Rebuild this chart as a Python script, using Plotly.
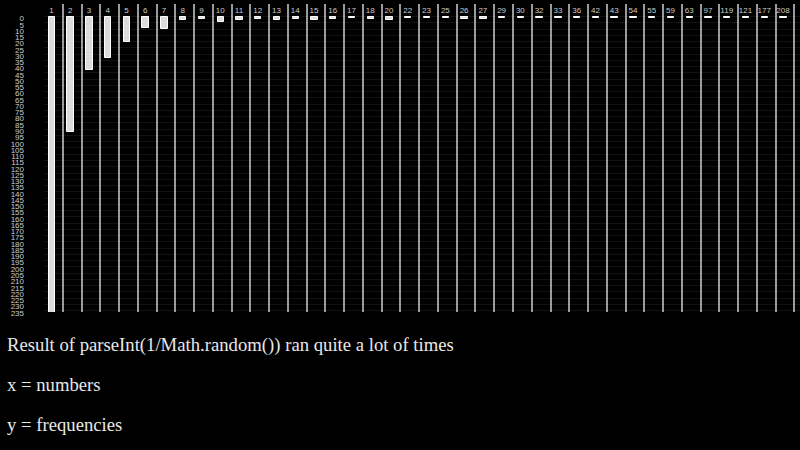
import plotly.graph_objects as go

# --- DATA ---
numbers = ["1", "2", "3", "4", "5", "6", "7", "8", "9", "10", "11", "12", "13", "14",
           "15", "16", "17", "18", "20", "22", "23", "25", "26", "27", "29", "30", "32",
           "33", "36", "42", "43", "54", "55", "59", "63", "97", "119", "121", "177", "208"]
frequencies = [262, 92, 43, 33, 20, 9, 10, 3, 2, 4, 3, 2, 3, 2,
               3, 2, 1, 2, 3, 1, 1, 1, 2, 2, 1, 1, 1,
               1, 1, 1, 1, 1, 1, 1, 1, 1, 1, 1, 1, 1]
y_ticks = list(range(0, 240, 5))

caption_lines = [
    "Result of parseInt(1/Math.random()) ran quite a lot of times",
    "x = numbers",
    "y = frequencies",
]

fig = go.Figure()

fig.add_trace(go.Bar(
    x=numbers, y=frequencies,
    width=0.34, offset=-0.25,
    marker=dict(color="#dcdcdc", line=dict(color="#ffffff", width=1)),
    showlegend=False,
))

fig.update_layout(
    width=800, height=450,
    paper_bgcolor="#000000", plot_bgcolor="#000000",
    margin=dict(l=44, r=0, t=4, b=138),
    bargap=0,
)

fig.update_xaxes(
    type="category", side="top", automargin=False,
    range=[-0.5, 39.8],
    tickson="boundaries", ticks="",
    showgrid=True, gridcolor="#9a9a9a", gridwidth=1.5,
    ticklabelposition="inside", tickangle=0,
    tickfont=dict(family="Liberation Sans Narrow, Liberation Sans, sans-serif", size=8, color="#cccccc"),
    ticklabelshift=-2,
    showline=False, zeroline=False,
)

fig.update_yaxes(
    automargin=False,
    range=[236, -10],
    tickmode="array", tickvals=y_ticks, ticktext=[str(v) for v in y_ticks],
    showgrid=True, gridcolor="rgba(255,255,255,0.07)", gridwidth=1,
    zeroline=False, showline=False, ticks="",
    tickfont=dict(family="Liberation Sans Narrow, Liberation Sans, sans-serif", size=8, color="#cccccc"),
    ticklabelstandoff=19, ticklabelshift=-2,
)

# caption below the chart
for i, line in enumerate(caption_lines):
    fig.add_annotation(
        text=line, xref="paper", yref="paper", x=0, y=0,
        xanchor="left", yanchor="middle", xshift=-39, yshift=-33 - i * 39.5,
        showarrow=False, align="left",
        font=dict(family="Liberation Serif, Times New Roman, serif", size=18.7, color="#e8e8e8"),
    )

# the page's default body margin would push the figure 8px right and down
fig.write_html("out.html", config={"displayModeBar": False},
               post_script="document.body.style.margin='0';")
